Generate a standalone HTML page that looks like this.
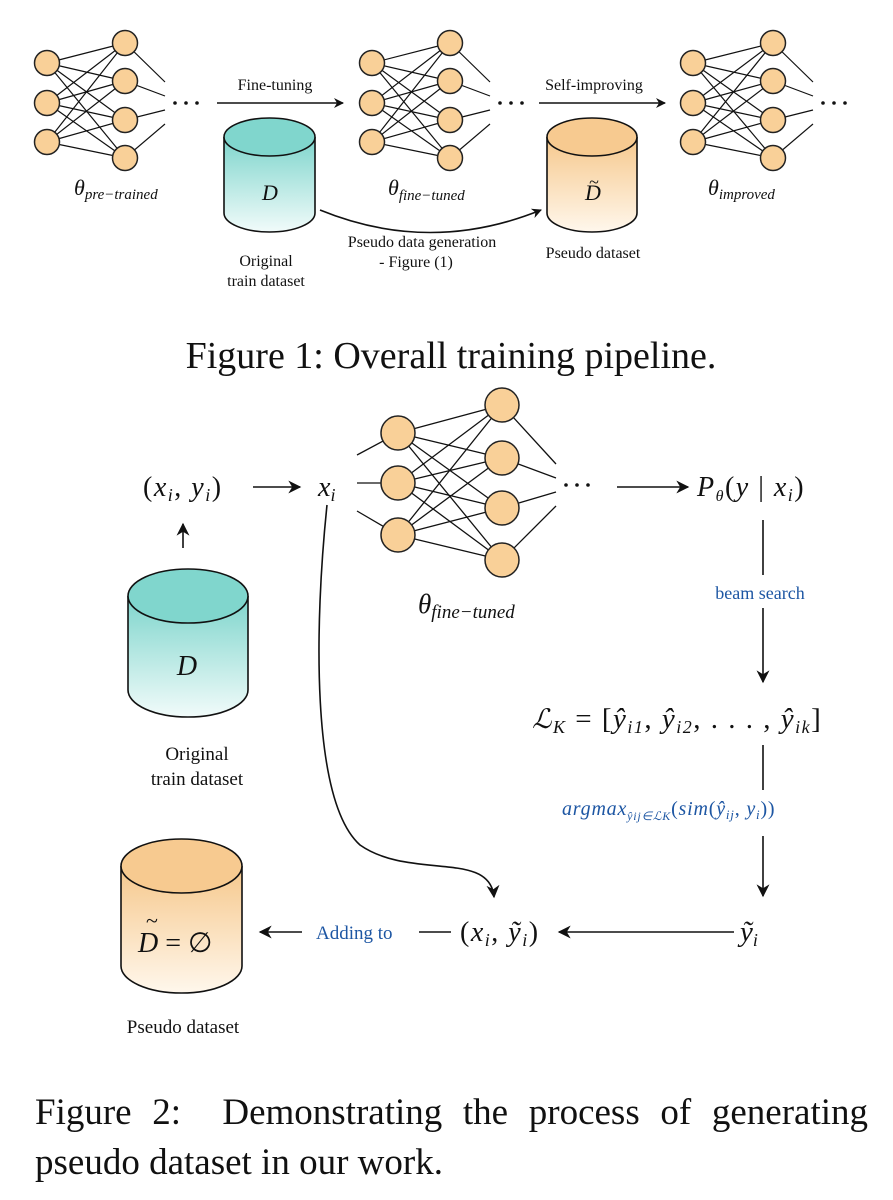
<!DOCTYPE html>
<html><head><meta charset="utf-8"><style>
html,body{margin:0;padding:0;background:#fff;}
svg{display:block;}
text{font-family:"Liberation Serif",serif;fill:#111;}
.it{font-style:italic;}
.b{fill:#1d56a3;}
.m{letter-spacing:1.5px;}
#cap{position:absolute;left:35px;top:1088px;width:833px;font-family:"Liberation Serif",serif;font-size:37px;line-height:50px;text-align:justify;text-align-last:left;color:#111;}
</style></head><body>
<svg id="s" width="893" height="1200" viewBox="0 0 893 1200" xmlns="http://www.w3.org/2000/svg">
<defs>
<linearGradient id="teal" x1="0" y1="0" x2="0" y2="1"><stop offset="0" stop-color="#7ed5cc"/><stop offset="1" stop-color="#f1fbfa"/></linearGradient>
<linearGradient id="org" x1="0" y1="0" x2="0" y2="1"><stop offset="0" stop-color="#f6c88c"/><stop offset="1" stop-color="#fff7ec"/></linearGradient>
<marker id="ah" viewBox="0 0 10 10" refX="9" refY="5" markerWidth="10" markerHeight="10" markerUnits="userSpaceOnUse" orient="auto"><path d="M0,0 L10,5 L0,10 L3,5 z" fill="#111"/></marker>
<marker id="ah2" viewBox="0 0 10 10" refX="9" refY="5" markerWidth="13" markerHeight="13" markerUnits="userSpaceOnUse" orient="auto"><path d="M0,0 L10,5 L0,10 L3,5 z" fill="#111"/></marker>
</defs>
<g id="nets"></g>
<g stroke="#111" stroke-width="1.6" fill="none">
<line x1="217" y1="103" x2="343" y2="103" marker-end="url(#ah)"/>
<line x1="539" y1="103" x2="665" y2="103" marker-end="url(#ah)"/>
<path d="M320,210 Q430,255 541,210" marker-end="url(#ah)"/>
<path d="M224,137 L224,213 A45.5,19 0 0 0 315,213 L315,137" fill="url(#teal)"/>
<ellipse cx="269.5" cy="137" rx="45.5" ry="19" fill="#80d6cd"/>
<path d="M547,137 L547,213 A45,19 0 0 0 637,213 L637,137" fill="url(#org)"/>
<ellipse cx="592" cy="137" rx="45" ry="19" fill="#f7ca90"/>
<path d="M128,596 L128,690 A60,27 0 0 0 248,690 L248,596" fill="url(#teal)"/>
<ellipse cx="188" cy="596" rx="60" ry="27" fill="#80d6cd"/>
<path d="M121,866 L121,966 A60.5,27 0 0 0 242,966 L242,866" fill="url(#org)"/>
<ellipse cx="181.5" cy="866" rx="60.5" ry="27" fill="#f7ca90"/>
<line x1="253" y1="487" x2="300" y2="487" marker-end="url(#ah2)"/>
<line x1="617" y1="487" x2="688" y2="487" marker-end="url(#ah2)"/>
<line x1="183" y1="548" x2="183" y2="524" marker-end="url(#ah2)"/>
<line x1="763" y1="520" x2="763" y2="575"/>
<line x1="763" y1="608" x2="763" y2="682" marker-end="url(#ah2)"/>
<line x1="763" y1="745" x2="763" y2="790"/>
<line x1="763" y1="836" x2="763" y2="896" marker-end="url(#ah2)"/>
<line x1="734" y1="932" x2="559" y2="932" marker-end="url(#ah2)"/>
<line x1="451" y1="932" x2="419" y2="932"/>
<line x1="302" y1="932" x2="260" y2="932" marker-end="url(#ah2)"/>
<path d="M327,505 C315,620 310,800 360,845 C410,880 490,850 494,897" marker-end="url(#ah2)"/>
</g>
<text x="275" y="90" font-size="16" text-anchor="middle">Fine-tuning</text>
<text x="594" y="90" font-size="16" text-anchor="middle">Self-improving</text>
<text x="270" y="200" font-size="22" class="it" text-anchor="middle">D</text>
<text x="593" y="200" font-size="22" class="it" text-anchor="middle">D</text>
<text x="594" y="188" font-size="18" text-anchor="middle">~</text>
<text x="266" y="266" font-size="16" text-anchor="middle">Original</text>
<text x="266" y="286" font-size="16" text-anchor="middle">train dataset</text>
<text x="422" y="247" font-size="16" text-anchor="middle">Pseudo data generation</text>
<text x="416" y="267" font-size="16" text-anchor="middle">- Figure (1)</text>
<text x="593" y="258" font-size="16" text-anchor="middle">Pseudo dataset</text>
<text x="74" y="195" font-size="22" class="it">θ<tspan font-size="15" dy="4">pre−trained</tspan></text>
<text x="388" y="195" font-size="22" class="it">θ<tspan font-size="15" dy="5">fine−tuned</tspan></text>
<text x="708" y="195" font-size="22" class="it">θ<tspan font-size="15" dy="4">improved</tspan></text>
<text x="451" y="368" font-size="38" text-anchor="middle">Figure 1: Overall training pipeline.</text>
<text x="143" y="496" font-size="28" class="m">(<tspan class="it">x</tspan><tspan class="it" font-size="18" dy="5">i</tspan><tspan dy="-5">, </tspan><tspan class="it">y</tspan><tspan class="it" font-size="18" dy="5">i</tspan><tspan dy="-5">)</tspan></text>
<text x="318" y="496" font-size="28" class="it">x<tspan font-size="18" dy="5">i</tspan></text>
<text x="697" y="496" font-size="28" class="m"><tspan class="it">P</tspan><tspan class="it" font-size="16" dy="5">θ</tspan><tspan dy="-5">(</tspan><tspan class="it">y</tspan> | <tspan class="it">x</tspan><tspan class="it" font-size="18" dy="5">i</tspan><tspan dy="-5">)</tspan></text>
<text x="418" y="613" font-size="27" class="it">θ<tspan font-size="19" dy="5">fine−tuned</tspan></text>
<text x="187" y="675" font-size="28" class="it" text-anchor="middle">D</text>
<text x="197" y="760" font-size="19" text-anchor="middle">Original</text>
<text x="197" y="785" font-size="19" text-anchor="middle">train dataset</text>
<text x="760" y="599" font-size="18" text-anchor="middle" class="b">beam search</text>
<text x="532" y="728" font-size="29" class="m"><tspan class="it" font-family="DejaVu Serif" font-size="27">ℒ</tspan><tspan class="it" font-size="18" dy="5">K</tspan><tspan dy="-5"> = [</tspan><tspan class="it">ŷ</tspan><tspan class="it" font-size="18" dy="5">i1</tspan><tspan dy="-5">, </tspan><tspan class="it">ŷ</tspan><tspan class="it" font-size="18" dy="5">i2</tspan><tspan dy="-5">, . . . , </tspan><tspan class="it">ŷ</tspan><tspan class="it" font-size="18" dy="5">ik</tspan><tspan dy="-5">]</tspan></text>
<text x="562" y="815" font-size="20" class="b" letter-spacing="0.8"><tspan class="it b">argmax</tspan><tspan class="it b" font-size="12" dy="5">ŷij∈ℒK</tspan><tspan class="b" dy="-5">(</tspan><tspan class="it b">sim</tspan><tspan class="b">(</tspan><tspan class="it b">ŷ</tspan><tspan class="it b" font-size="13" dy="4">ij</tspan><tspan class="b" dy="-4">, </tspan><tspan class="it b">y</tspan><tspan class="it b" font-size="13" dy="4">i</tspan><tspan class="b" dy="-4">))</tspan></text>
<text x="740" y="941" font-size="29" class="it">ỹ<tspan font-size="18" dy="5">i</tspan></text>
<text x="460" y="941" font-size="28" class="m">(<tspan class="it">x</tspan><tspan class="it" font-size="18" dy="5">i</tspan><tspan dy="-5">, </tspan><tspan class="it">ỹ</tspan><tspan class="it" font-size="18" dy="5">i</tspan><tspan dy="-5">)</tspan></text>
<text x="316" y="939" font-size="19" class="b">Adding to</text>
<text x="138" y="952" font-size="28"><tspan class="it">D</tspan> = ∅</text>
<text x="146" y="928" font-size="22">~</text>
<text x="183" y="1033" font-size="19" text-anchor="middle">Pseudo dataset</text>
</svg>
<div id="cap">Figure 2:&nbsp; Demonstrating the process of generating pseudo dataset in our work.</div>
<script>
(function(){
var g=document.getElementById('nets'),h='';
function net(ix,iy,ox,oy,r,dx,dy,lead,sw){
  var s='';
  iy.forEach(function(a){oy.forEach(function(b){s+='<line x1="'+ix+'" y1="'+a+'" x2="'+ox+'" y2="'+b+'" stroke="#111" stroke-width="'+sw+'"/>';});});
  oy.forEach(function(b,i){var ty=dy+(i-1.5)*14;s+='<line x1="'+ox+'" y1="'+b+'" x2="'+(dx-10)+'" y2="'+ty+'" stroke="#111" stroke-width="'+sw+'"/>';});
  if(lead){iy.forEach(function(a,i){s+='<line x1="'+lead+'" y1="'+(iy[1]+(i-1)*28)+'" x2="'+ix+'" y2="'+a+'" stroke="#111" stroke-width="'+sw+'"/>';});}
  iy.forEach(function(a){s+='<circle cx="'+ix+'" cy="'+a+'" r="'+r+'" fill="#f9d098" stroke="#222" stroke-width="1.5"/>';});
  oy.forEach(function(b){s+='<circle cx="'+ox+'" cy="'+b+'" r="'+r+'" fill="#f9d098" stroke="#222" stroke-width="1.5"/>';});
  for(var k=0;k<3;k++)s+='<circle cx="'+(dx+k*11)+'" cy="'+dy+'" r="1.8" fill="#111"/>';
  return s;
}
h+=net(47,[63,103,142],125,[43,81,120,158],12.5,175,103,0,1.2);
h+=net(372,[63,103,142],450,[43,81,120,158],12.5,500,103,0,1.2);
h+=net(693,[63,103,142],773,[43,81,120,158],12.5,823,103,0,1.2);
h+=net(398,[433,483,535],502,[405,458,508,560],17,566,485,357,1.3);
g.innerHTML=h;
})();
</script>
</body></html>
